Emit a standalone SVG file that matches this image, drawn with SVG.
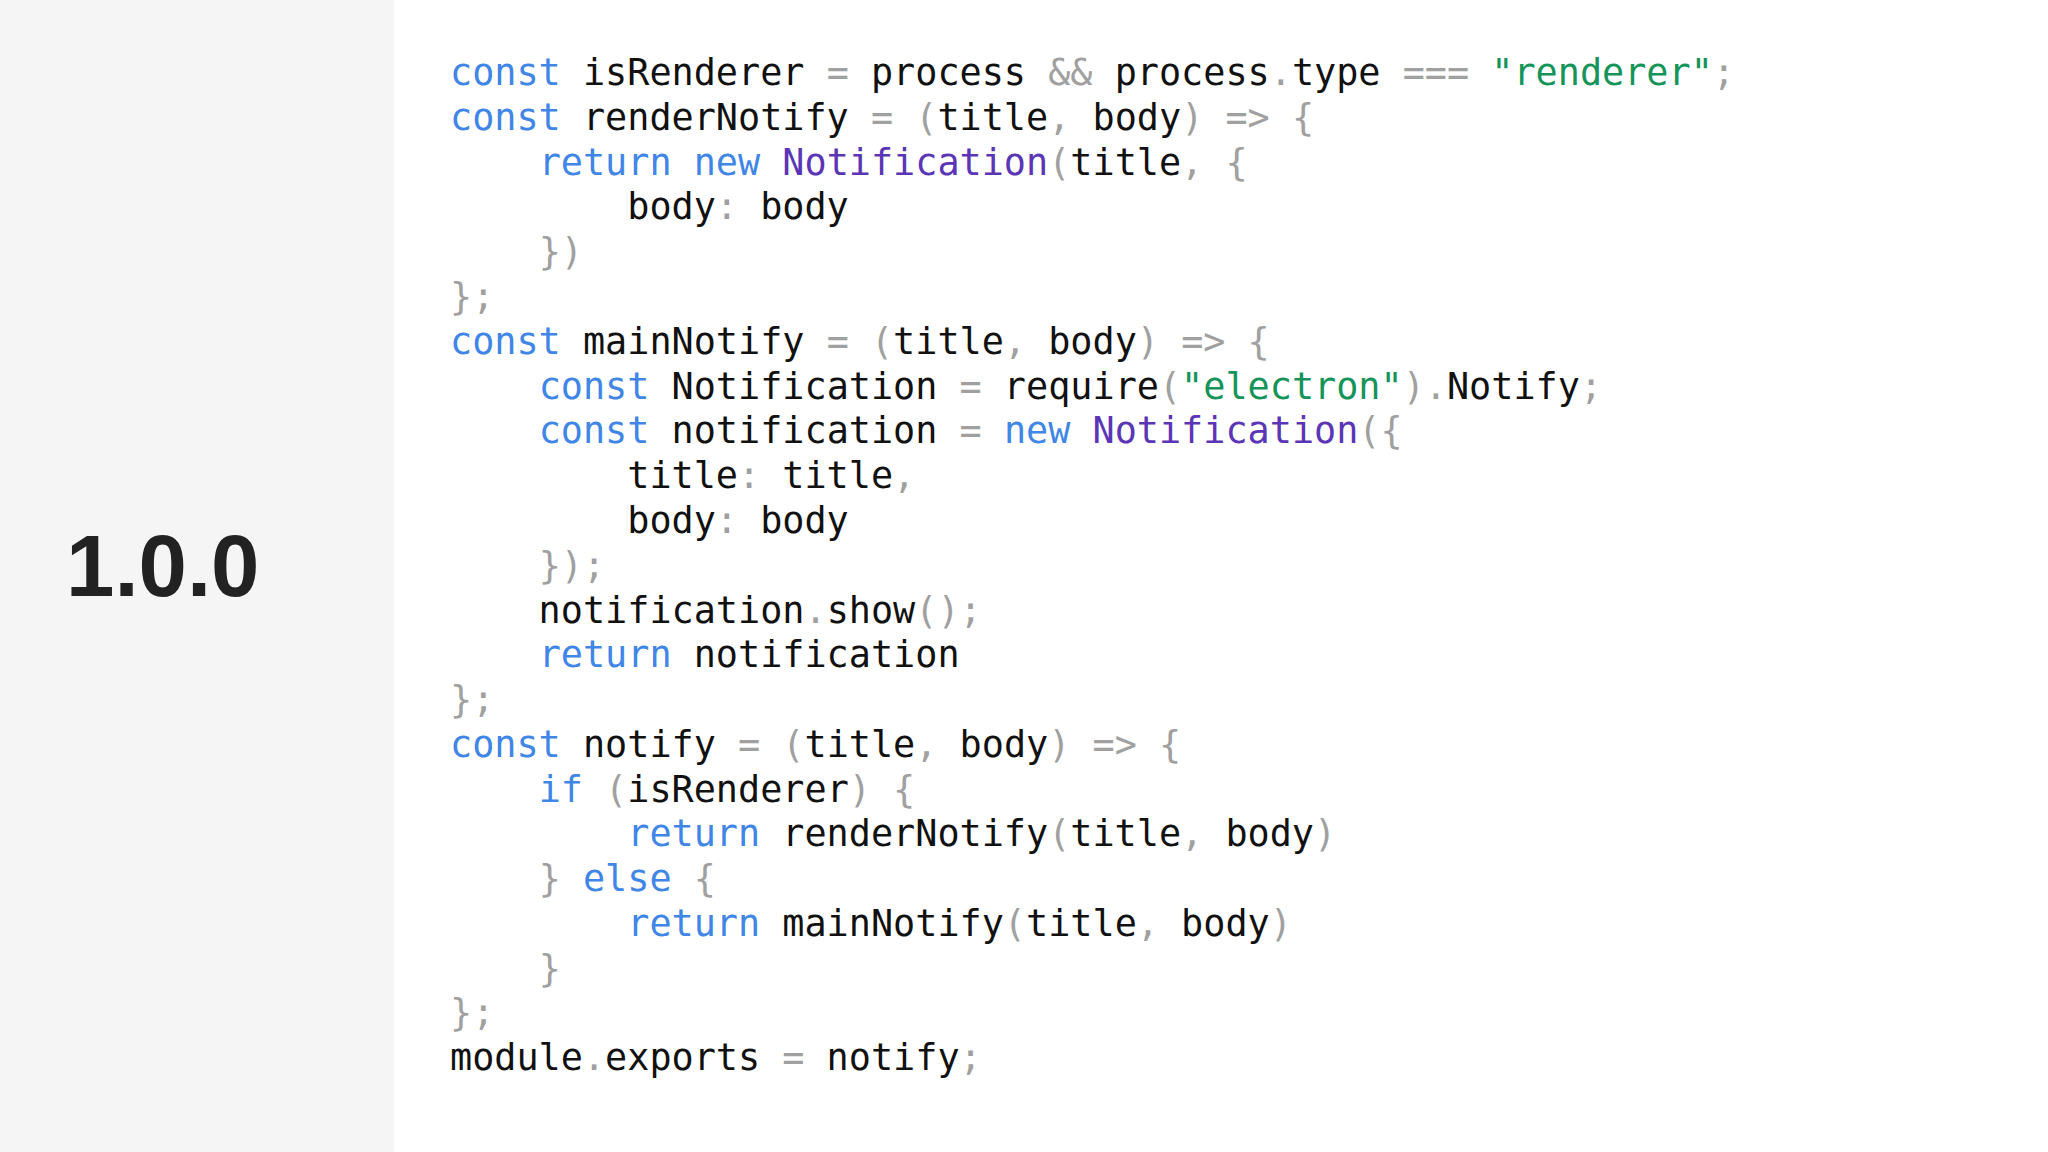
<svg xmlns="http://www.w3.org/2000/svg" width="2048" height="1152" viewBox="0 0 2048 1152">
<style>
.c{font-family:"DejaVu Sans Mono","Liberation Mono",monospace;font-size:36.8px;fill:#111;white-space:pre}
.k{fill:#3f86e6}.f{fill:#5a35b5}.s{fill:#15945a}.p{fill:#a0a0a0}
.v{font-family:"Liberation Sans",Arial,sans-serif;font-weight:bold;font-size:87px;fill:#222}
</style>
<rect width="2048" height="1152" fill="#ffffff"/>
<rect width="394" height="1152" fill="#f5f5f6"/>
<g id="version"><text class="v" x="66" y="596">1.0.0</text></g>
<g id="code" xml:space="preserve">
<text class="c" x="450" y="85"><tspan class="k">const</tspan> isRenderer <tspan class="p">=</tspan> process <tspan class="p">&amp;&amp;</tspan> process<tspan class="p">.</tspan>type <tspan class="p">===</tspan> <tspan class="s">"renderer"</tspan><tspan class="p">;</tspan></text>
<text class="c" x="450" y="130"><tspan class="k">const</tspan> renderNotify <tspan class="p">=</tspan> <tspan class="p">(</tspan>title<tspan class="p">,</tspan> body<tspan class="p">)</tspan> <tspan class="p">=&gt;</tspan> <tspan class="p">{</tspan></text>
<text class="c" x="450" y="175">    <tspan class="k">return</tspan> <tspan class="k">new</tspan> <tspan class="f">Notification</tspan><tspan class="p">(</tspan>title<tspan class="p">,</tspan> <tspan class="p">{</tspan></text>
<text class="c" x="450" y="219">        body<tspan class="p">:</tspan> body</text>
<text class="c" x="450" y="264">    <tspan class="p">})</tspan></text>
<text class="c" x="450" y="309"><tspan class="p">};</tspan></text>
<text class="c" x="450" y="354"><tspan class="k">const</tspan> mainNotify <tspan class="p">=</tspan> <tspan class="p">(</tspan>title<tspan class="p">,</tspan> body<tspan class="p">)</tspan> <tspan class="p">=&gt;</tspan> <tspan class="p">{</tspan></text>
<text class="c" x="450" y="399">    <tspan class="k">const</tspan> Notification <tspan class="p">=</tspan> require<tspan class="p">(</tspan><tspan class="s">"electron"</tspan><tspan class="p">).</tspan>Notify<tspan class="p">;</tspan></text>
<text class="c" x="450" y="443">    <tspan class="k">const</tspan> notification <tspan class="p">=</tspan> <tspan class="k">new</tspan> <tspan class="f">Notification</tspan><tspan class="p">({</tspan></text>
<text class="c" x="450" y="488">        title<tspan class="p">:</tspan> title<tspan class="p">,</tspan></text>
<text class="c" x="450" y="533">        body<tspan class="p">:</tspan> body</text>
<text class="c" x="450" y="578">    <tspan class="p">});</tspan></text>
<text class="c" x="450" y="623">    notification<tspan class="p">.</tspan>show<tspan class="p">();</tspan></text>
<text class="c" x="450" y="667">    <tspan class="k">return</tspan> notification</text>
<text class="c" x="450" y="712"><tspan class="p">};</tspan></text>
<text class="c" x="450" y="757"><tspan class="k">const</tspan> notify <tspan class="p">=</tspan> <tspan class="p">(</tspan>title<tspan class="p">,</tspan> body<tspan class="p">)</tspan> <tspan class="p">=&gt;</tspan> <tspan class="p">{</tspan></text>
<text class="c" x="450" y="802">    <tspan class="k">if</tspan> <tspan class="p">(</tspan>isRenderer<tspan class="p">)</tspan> <tspan class="p">{</tspan></text>
<text class="c" x="450" y="846">        <tspan class="k">return</tspan> renderNotify<tspan class="p">(</tspan>title<tspan class="p">,</tspan> body<tspan class="p">)</tspan></text>
<text class="c" x="450" y="891">    <tspan class="p">}</tspan> <tspan class="k">else</tspan> <tspan class="p">{</tspan></text>
<text class="c" x="450" y="936">        <tspan class="k">return</tspan> mainNotify<tspan class="p">(</tspan>title<tspan class="p">,</tspan> body<tspan class="p">)</tspan></text>
<text class="c" x="450" y="981">    <tspan class="p">}</tspan></text>
<text class="c" x="450" y="1025"><tspan class="p">};</tspan></text>
<text class="c" x="450" y="1070">module<tspan class="p">.</tspan>exports <tspan class="p">=</tspan> notify<tspan class="p">;</tspan></text>
</g>
</svg>
